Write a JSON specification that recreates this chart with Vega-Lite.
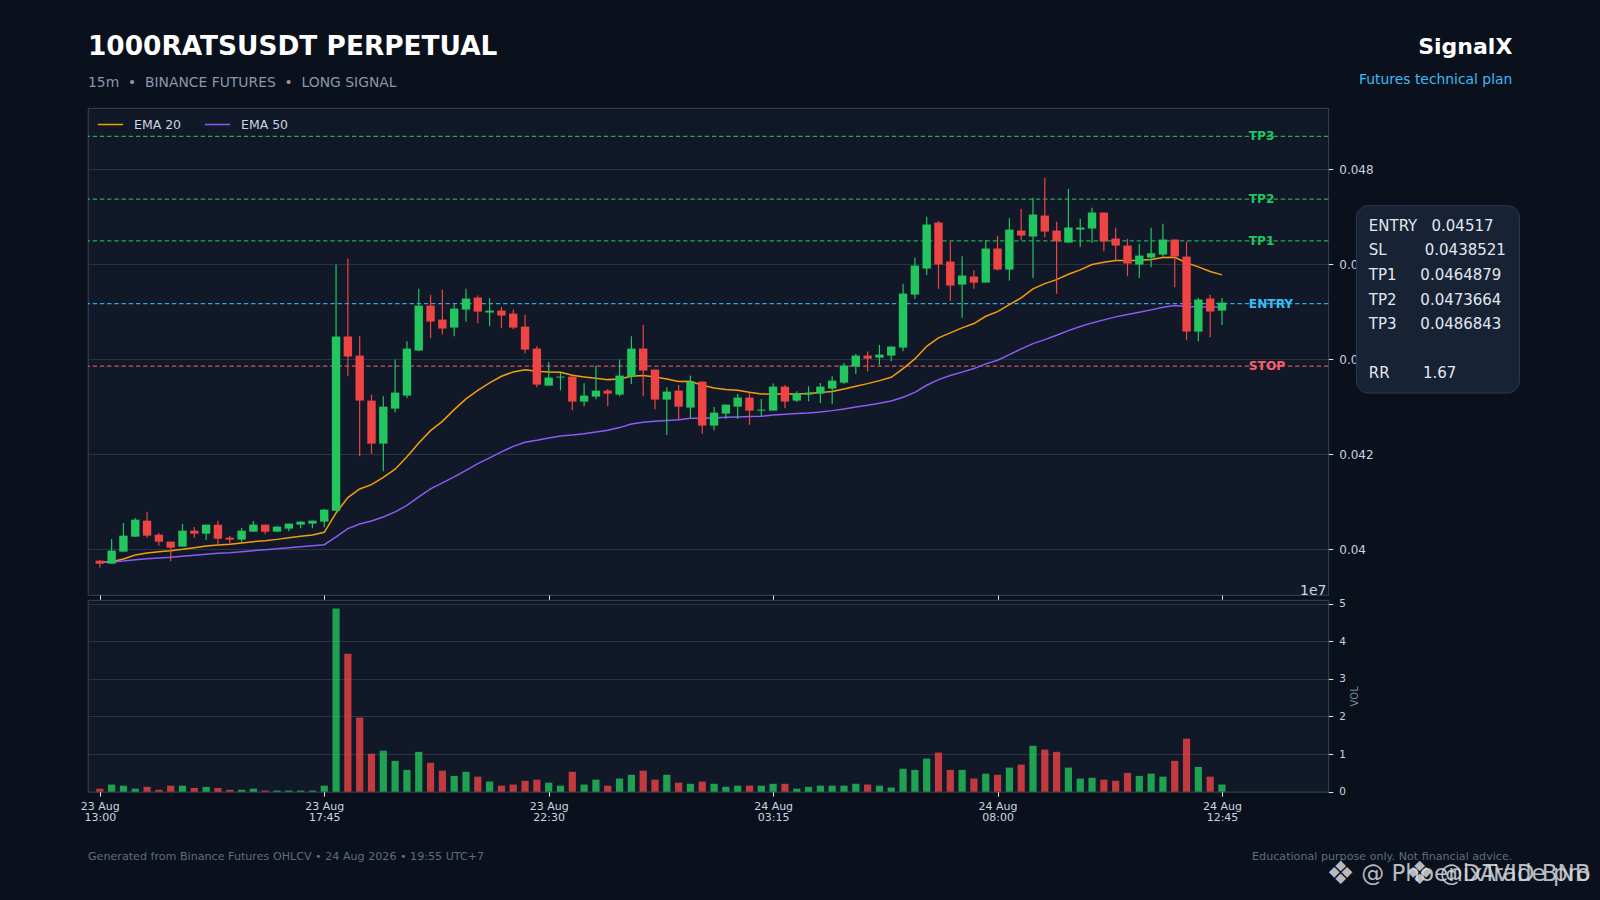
{
  "$schema": "https://vega.github.io/schema/vega-lite/v6.json",
  "description": "1000RATSUSDT 15m candlesticks with EMA lines, trade levels and volume.",
  "background": "#0a101c",
  "padding": {"left": 79, "top": 33, "right": 11, "bottom": 11},
  "config": {
    "font": "DejaVu Sans",
    "view": {"fill": "#111827", "stroke": "#2f3b4d", "strokeWidth": 1.2},
    "axis": {
      "domain": false,
      "gridColor": "#2a3442",
      "gridWidth": 1.1,
      "tickColor": "#e2e8f0",
      "tickSize": 4.5,
      "labelColor": "#cbd5e1"
    }
  },
  "datasets": {
    "candles": [
      {"i":0,"d":"down","o":0.039762,"h":0.039783,"l":0.039621,"c":0.039699,"EMA 20":0.039735,"EMA 50":0.039726,"v":0.08},
      {"i":1,"d":"up","o":0.039699,"h":0.040219,"l":0.039699,"c":0.039973,"EMA 20":0.039741,"EMA 50":0.039735,"v":0.19},
      {"i":2,"d":"up","o":0.039952,"h":0.040555,"l":0.039952,"c":0.040288,"EMA 20":0.039798,"EMA 50":0.039756,"v":0.16},
      {"i":3,"d":"up","o":0.040267,"h":0.040661,"l":0.040267,"c":0.040625,"EMA 20":0.039882,"EMA 50":0.039783,"v":0.08},
      {"i":4,"d":"down","o":0.040604,"h":0.040793,"l":0.040246,"c":0.040288,"EMA 20":0.039924,"EMA 50":0.039804,"v":0.13},
      {"i":5,"d":"down","o":0.040309,"h":0.040345,"l":0.040078,"c":0.040162,"EMA 20":0.039952,"EMA 50":0.039819,"v":0.05},
      {"i":6,"d":"down","o":0.040162,"h":0.040162,"l":0.039748,"c":0.040036,"EMA 20":0.039973,"EMA 50":0.039832,"v":0.16},
      {"i":7,"d":"up","o":0.040057,"h":0.040534,"l":0.040057,"c":0.040393,"EMA 20":0.04,"EMA 50":0.039853,"v":0.16},
      {"i":8,"d":"down","o":0.040393,"h":0.040471,"l":0.040246,"c":0.04033,"EMA 20":0.040036,"EMA 50":0.039874,"v":0.1},
      {"i":9,"d":"up","o":0.04033,"h":0.04052,"l":0.040198,"c":0.04052,"EMA 20":0.040072,"EMA 50":0.039895,"v":0.13},
      {"i":10,"d":"down","o":0.04052,"h":0.040604,"l":0.040078,"c":0.040225,"EMA 20":0.040093,"EMA 50":0.039916,"v":0.1},
      {"i":11,"d":"down","o":0.040246,"h":0.040288,"l":0.04012,"c":0.040204,"EMA 20":0.040105,"EMA 50":0.039931,"v":0.05},
      {"i":12,"d":"up","o":0.040204,"h":0.04045,"l":0.040156,"c":0.040393,"EMA 20":0.040135,"EMA 50":0.039952,"v":0.05},
      {"i":13,"d":"up","o":0.040372,"h":0.040598,"l":0.040372,"c":0.04052,"EMA 20":0.040162,"EMA 50":0.039973,"v":0.08},
      {"i":14,"d":"down","o":0.04052,"h":0.04052,"l":0.040324,"c":0.040372,"EMA 20":0.040183,"EMA 50":0.039994,"v":0.03},
      {"i":15,"d":"up","o":0.040372,"h":0.040488,"l":0.040372,"c":0.040478,"EMA 20":0.04021,"EMA 50":0.040015,"v":0.03},
      {"i":16,"d":"up","o":0.040436,"h":0.040541,"l":0.040379,"c":0.040541,"EMA 20":0.040246,"EMA 50":0.040036,"v":0.03},
      {"i":17,"d":"up","o":0.04052,"h":0.040593,"l":0.040442,"c":0.040583,"EMA 20":0.040274,"EMA 50":0.040057,"v":0.03},
      {"i":18,"d":"up","o":0.040541,"h":0.040604,"l":0.040442,"c":0.040604,"EMA 20":0.040303,"EMA 50":0.040078,"v":0.03},
      {"i":19,"d":"up","o":0.040583,"h":0.040856,"l":0.040463,"c":0.040835,"EMA 20":0.040358,"EMA 50":0.040099,"v":0.16},
      {"i":20,"d":"up","o":0.040814,"h":0.04599,"l":0.040814,"c":0.044475,"EMA 20":0.040766,"EMA 50":0.040261,"v":4.87},
      {"i":21,"d":"down","o":0.044475,"h":0.04611,"l":0.04364,"c":0.044054,"EMA 20":0.041088,"EMA 50":0.040436,"v":3.67},
      {"i":22,"d":"down","o":0.044075,"h":0.044482,"l":0.041957,"c":0.043129,"EMA 20":0.041271,"EMA 50":0.040534,"v":1.97},
      {"i":23,"d":"down","o":0.043129,"h":0.043255,"l":0.042007,"c":0.042224,"EMA 20":0.041361,"EMA 50":0.040598,"v":1.01},
      {"i":24,"d":"up","o":0.042224,"h":0.043219,"l":0.041641,"c":0.043002,"EMA 20":0.041515,"EMA 50":0.040682,"v":1.09},
      {"i":25,"d":"up","o":0.04296,"h":0.043991,"l":0.042882,"c":0.043297,"EMA 20":0.041687,"EMA 50":0.040787,"v":0.82},
      {"i":26,"d":"up","o":0.043234,"h":0.044376,"l":0.043185,"c":0.044223,"EMA 20":0.04195,"EMA 50":0.040926,"v":0.58},
      {"i":27,"d":"up","o":0.044181,"h":0.045479,"l":0.044166,"c":0.045127,"EMA 20":0.042239,"EMA 50":0.041102,"v":1.06},
      {"i":28,"d":"down","o":0.045127,"h":0.045353,"l":0.044439,"c":0.044791,"EMA 20":0.042497,"EMA 50":0.041271,"v":0.77},
      {"i":29,"d":"down","o":0.044833,"h":0.045458,"l":0.044517,"c":0.044644,"EMA 20":0.042693,"EMA 50":0.041397,"v":0.56},
      {"i":30,"d":"up","o":0.044665,"h":0.045163,"l":0.044482,"c":0.045064,"EMA 20":0.042939,"EMA 50":0.041523,"v":0.42},
      {"i":31,"d":"up","o":0.045043,"h":0.045479,"l":0.044785,"c":0.045275,"EMA 20":0.043164,"EMA 50":0.041662,"v":0.53},
      {"i":32,"d":"down","o":0.045296,"h":0.045338,"l":0.044755,"c":0.045001,"EMA 20":0.043345,"EMA 50":0.041803,"v":0.4},
      {"i":33,"d":"up","o":0.04498,"h":0.045281,"l":0.0447,"c":0.045022,"EMA 20":0.043501,"EMA 50":0.041923,"v":0.27},
      {"i":34,"d":"down","o":0.045022,"h":0.0451,"l":0.04465,"c":0.044917,"EMA 20":0.04364,"EMA 50":0.042049,"v":0.16},
      {"i":35,"d":"down","o":0.044959,"h":0.045043,"l":0.044629,"c":0.044665,"EMA 20":0.043732,"EMA 50":0.042167,"v":0.19},
      {"i":36,"d":"down","o":0.044686,"h":0.044932,"l":0.044124,"c":0.044202,"EMA 20":0.043775,"EMA 50":0.042251,"v":0.29},
      {"i":37,"d":"down","o":0.044223,"h":0.044271,"l":0.043408,"c":0.043465,"EMA 20":0.043745,"EMA 50":0.042293,"v":0.32},
      {"i":38,"d":"up","o":0.043444,"h":0.043934,"l":0.043444,"c":0.043613,"EMA 20":0.043732,"EMA 50":0.042344,"v":0.24},
      {"i":39,"d":"up","o":0.043613,"h":0.043711,"l":0.043345,"c":0.043634,"EMA 20":0.043724,"EMA 50":0.042386,"v":0.16},
      {"i":40,"d":"down","o":0.043634,"h":0.043634,"l":0.042925,"c":0.043108,"EMA 20":0.043661,"EMA 50":0.042407,"v":0.53},
      {"i":41,"d":"up","o":0.043108,"h":0.043493,"l":0.043009,"c":0.043234,"EMA 20":0.043627,"EMA 50":0.042434,"v":0.19},
      {"i":42,"d":"up","o":0.043213,"h":0.043865,"l":0.043156,"c":0.043339,"EMA 20":0.043598,"EMA 50":0.04247,"v":0.32},
      {"i":43,"d":"down","o":0.043339,"h":0.043375,"l":0.043009,"c":0.043276,"EMA 20":0.04357,"EMA 50":0.042504,"v":0.16},
      {"i":44,"d":"up","o":0.043255,"h":0.043991,"l":0.043219,"c":0.043655,"EMA 20":0.043585,"EMA 50":0.042561,"v":0.35},
      {"i":45,"d":"up","o":0.043634,"h":0.044482,"l":0.04348,"c":0.044223,"EMA 20":0.04364,"EMA 50":0.042638,"v":0.45},
      {"i":46,"d":"down","o":0.044223,"h":0.044721,"l":0.043219,"c":0.04376,"EMA 20":0.043655,"EMA 50":0.042672,"v":0.56},
      {"i":47,"d":"down","o":0.043781,"h":0.043781,"l":0.042946,"c":0.04315,"EMA 20":0.043627,"EMA 50":0.042693,"v":0.32},
      {"i":48,"d":"up","o":0.04315,"h":0.043408,"l":0.042407,"c":0.043318,"EMA 20":0.043585,"EMA 50":0.042708,"v":0.45},
      {"i":49,"d":"down","o":0.043339,"h":0.043459,"l":0.042729,"c":0.043002,"EMA 20":0.043533,"EMA 50":0.042725,"v":0.24},
      {"i":50,"d":"up","o":0.042981,"h":0.043655,"l":0.04275,"c":0.043528,"EMA 20":0.043535,"EMA 50":0.042756,"v":0.21},
      {"i":51,"d":"down","o":0.043528,"h":0.043528,"l":0.042434,"c":0.042603,"EMA 20":0.043451,"EMA 50":0.042756,"v":0.27},
      {"i":52,"d":"up","o":0.042603,"h":0.042996,"l":0.042504,"c":0.042876,"EMA 20":0.043396,"EMA 50":0.042765,"v":0.21},
      {"i":53,"d":"up","o":0.042855,"h":0.043044,"l":0.042744,"c":0.043044,"EMA 20":0.04336,"EMA 50":0.042777,"v":0.13},
      {"i":54,"d":"up","o":0.043002,"h":0.04327,"l":0.042744,"c":0.043192,"EMA 20":0.043345,"EMA 50":0.042786,"v":0.16},
      {"i":55,"d":"down","o":0.043192,"h":0.043291,"l":0.042617,"c":0.042918,"EMA 20":0.043303,"EMA 50":0.042792,"v":0.16},
      {"i":56,"d":"up","o":0.042918,"h":0.043164,"l":0.042798,"c":0.042939,"EMA 20":0.04327,"EMA 50":0.042798,"v":0.16},
      {"i":57,"d":"up","o":0.042918,"h":0.043486,"l":0.042918,"c":0.043423,"EMA 20":0.04327,"EMA 50":0.042828,"v":0.21},
      {"i":58,"d":"down","o":0.043423,"h":0.043459,"l":0.042967,"c":0.043108,"EMA 20":0.04327,"EMA 50":0.04284,"v":0.21},
      {"i":59,"d":"up","o":0.043129,"h":0.043324,"l":0.043101,"c":0.043276,"EMA 20":0.04327,"EMA 50":0.042855,"v":0.08},
      {"i":60,"d":"up","o":0.043255,"h":0.04343,"l":0.043114,"c":0.043297,"EMA 20":0.043276,"EMA 50":0.04287,"v":0.13},
      {"i":61,"d":"up","o":0.043276,"h":0.043501,"l":0.04308,"c":0.043423,"EMA 20":0.043297,"EMA 50":0.042891,"v":0.16},
      {"i":62,"d":"up","o":0.043381,"h":0.04364,"l":0.043059,"c":0.043549,"EMA 20":0.043318,"EMA 50":0.042918,"v":0.16},
      {"i":63,"d":"up","o":0.043507,"h":0.043922,"l":0.04348,"c":0.043865,"EMA 20":0.043375,"EMA 50":0.042954,"v":0.16},
      {"i":64,"d":"up","o":0.043844,"h":0.044111,"l":0.04369,"c":0.044075,"EMA 20":0.04343,"EMA 50":0.042996,"v":0.21},
      {"i":65,"d":"down","o":0.044075,"h":0.04416,"l":0.043745,"c":0.044012,"EMA 20":0.043486,"EMA 50":0.04303,"v":0.19},
      {"i":66,"d":"up","o":0.044033,"h":0.044301,"l":0.04388,"c":0.044097,"EMA 20":0.043549,"EMA 50":0.043072,"v":0.16},
      {"i":67,"d":"up","o":0.044075,"h":0.044265,"l":0.043956,"c":0.044265,"EMA 20":0.043619,"EMA 50":0.043122,"v":0.11},
      {"i":68,"d":"up","o":0.044244,"h":0.045584,"l":0.044166,"c":0.04538,"EMA 20":0.043802,"EMA 50":0.043198,"v":0.61},
      {"i":69,"d":"up","o":0.045359,"h":0.046131,"l":0.045268,"c":0.045969,"EMA 20":0.044006,"EMA 50":0.043303,"v":0.58},
      {"i":70,"d":"up","o":0.045906,"h":0.046994,"l":0.045773,"c":0.046832,"EMA 20":0.044271,"EMA 50":0.043451,"v":0.88},
      {"i":71,"d":"down","o":0.046874,"h":0.04691,"l":0.045479,"c":0.04599,"EMA 20":0.044448,"EMA 50":0.04357,"v":1.04},
      {"i":72,"d":"down","o":0.046053,"h":0.04648,"l":0.045226,"c":0.045548,"EMA 20":0.044553,"EMA 50":0.043655,"v":0.58},
      {"i":73,"d":"up","o":0.045569,"h":0.046165,"l":0.044869,"c":0.045759,"EMA 20":0.044658,"EMA 50":0.043728,"v":0.58},
      {"i":74,"d":"down","o":0.045738,"h":0.04587,"l":0.045479,"c":0.045611,"EMA 20":0.044749,"EMA 50":0.043802,"v":0.35},
      {"i":75,"d":"up","o":0.045611,"h":0.046501,"l":0.045611,"c":0.046327,"EMA 20":0.044902,"EMA 50":0.043901,"v":0.48},
      {"i":76,"d":"down","o":0.046327,"h":0.046594,"l":0.045864,"c":0.045885,"EMA 20":0.045001,"EMA 50":0.043977,"v":0.45},
      {"i":77,"d":"up","o":0.045885,"h":0.046964,"l":0.045653,"c":0.046726,"EMA 20":0.045148,"EMA 50":0.044096,"v":0.64},
      {"i":78,"d":"down","o":0.046705,"h":0.047162,"l":0.046501,"c":0.0466,"EMA 20":0.045289,"EMA 50":0.044216,"v":0.72},
      {"i":79,"d":"up","o":0.046579,"h":0.047393,"l":0.04571,"c":0.047042,"EMA 20":0.045479,"EMA 50":0.044328,"v":1.22},
      {"i":80,"d":"down","o":0.047021,"h":0.047814,"l":0.046564,"c":0.046684,"EMA 20":0.04559,"EMA 50":0.044412,"v":1.12},
      {"i":81,"d":"down","o":0.046705,"h":0.046888,"l":0.045374,"c":0.04648,"EMA 20":0.045674,"EMA 50":0.044503,"v":1.06},
      {"i":82,"d":"up","o":0.046453,"h":0.047583,"l":0.046453,"c":0.046769,"EMA 20":0.045786,"EMA 50":0.044601,"v":0.64},
      {"i":83,"d":"up","o":0.046726,"h":0.046952,"l":0.046362,"c":0.046769,"EMA 20":0.045878,"EMA 50":0.044686,"v":0.35},
      {"i":84,"d":"up","o":0.046748,"h":0.047183,"l":0.046447,"c":0.047084,"EMA 20":0.04599,"EMA 50":0.044763,"v":0.37},
      {"i":85,"d":"down","o":0.047084,"h":0.047084,"l":0.04627,"c":0.046474,"EMA 20":0.046038,"EMA 50":0.044827,"v":0.32},
      {"i":86,"d":"down","o":0.046537,"h":0.046762,"l":0.046081,"c":0.04639,"EMA 20":0.046074,"EMA 50":0.04489,"v":0.29},
      {"i":87,"d":"down","o":0.04639,"h":0.046531,"l":0.045744,"c":0.046011,"EMA 20":0.046074,"EMA 50":0.044938,"v":0.5},
      {"i":88,"d":"up","o":0.04599,"h":0.046426,"l":0.04571,"c":0.046179,"EMA 20":0.046081,"EMA 50":0.044986,"v":0.42},
      {"i":89,"d":"up","o":0.046137,"h":0.046762,"l":0.045933,"c":0.046228,"EMA 20":0.046095,"EMA 50":0.045037,"v":0.48},
      {"i":90,"d":"up","o":0.0462,"h":0.046846,"l":0.046152,"c":0.046516,"EMA 20":0.046137,"EMA 50":0.045092,"v":0.4},
      {"i":91,"d":"down","o":0.046516,"h":0.046516,"l":0.045512,"c":0.046158,"EMA 20":0.046144,"EMA 50":0.045127,"v":0.82},
      {"i":92,"d":"down","o":0.046158,"h":0.046474,"l":0.044397,"c":0.04458,"EMA 20":0.046026,"EMA 50":0.045106,"v":1.41},
      {"i":93,"d":"up","o":0.04458,"h":0.045289,"l":0.044376,"c":0.045254,"EMA 20":0.045942,"EMA 50":0.0451,"v":0.66},
      {"i":94,"d":"down","o":0.045275,"h":0.045353,"l":0.04446,"c":0.045001,"EMA 20":0.045843,"EMA 50":0.0451,"v":0.4},
      {"i":95,"d":"up","o":0.045022,"h":0.045289,"l":0.044721,"c":0.045191,"EMA 20":0.045773,"EMA 50":0.0451,"v":0.19}
    ],
    "levels": [
      {"name":"TP3","price":0.0486843},
      {"name":"TP2","price":0.0473664},
      {"name":"TP1","price":0.0464879},
      {"name":"ENTRY","price":0.04517},
      {"name":"STOP","price":0.0438521}
    ]
  },
  "spacing": 5,
  "bounds": "flush",
  "vconcat": [
    {
      "width": 1240.3,
      "height": 487,
      "layer": [
        {
          "data": {"name": "levels"},
          "mark": {"type": "text", "align": "left", "baseline": "middle", "fontWeight": "bold", "fontSize": 12.2},
          "encoding": {
            "x": {"datum": 97.27, "type": "quantitative"},
            "y": {"field": "price", "type": "quantitative"},
            "text": {"field": "name"},
            "color": {
              "field": "name",
              "legend": null,
              "scale": {
                "domain": ["TP3", "TP2", "TP1", "ENTRY", "STOP"],
                "range": ["#22c55e", "#22c55e", "#22c55e", "#38bdf8", "#f4606c"]
              }
            }
          }
        },
        {
          "data": {"name": "levels"},
          "mark": {"type": "rule", "strokeWidth": 1.2, "strokeDash": [4.4, 2.8], "opacity": 0.85},
          "encoding": {
            "y": {
              "field": "price",
              "type": "quantitative",
              "scale": {"domain": [0.03904, 0.049283], "nice": false, "zero": false},
              "axis": {
                "orient": "right",
                "title": null,
                "values": [0.04, 0.042, 0.044, 0.046, 0.048],
                "format": ".3~f",
                "labelFontSize": 12,
                "labelPadding": 6
              }
            },
            "color": {
              "field": "name",
              "legend": null,
              "scale": {
                "domain": ["TP3", "TP2", "TP1", "ENTRY", "STOP"],
                "range": ["#22c55e", "#22c55e", "#22c55e", "#38bdf8", "#f4606c"]
              }
            }
          }
        },
        {
          "data": {"name": "candles"},
          "transform": [{"fold": ["EMA 20", "EMA 50"]}],
          "mark": {"type": "line", "strokeWidth": 1.5},
          "encoding": {
            "x": {
              "field": "i",
              "type": "quantitative",
              "scale": {"domain": [-1, 104], "nice": false, "zero": false, "padding": 0},
              "axis": {
                "title": null,
                "values": [0, 19, 38, 57, 76, 95],
                "labels": false
              }
            },
            "y": {"field": "value", "type": "quantitative"},
            "stroke": {
              "field": "key",
              "scale": {"domain": ["EMA 20", "EMA 50"], "range": ["#f59e0b", "#8b5cf6"]},
              "legend": {
                "title": null,
                "orient": "none",
                "legendX": 9,
                "legendY": 3,
                "direction": "horizontal",
                "symbolType": "stroke",
                "symbolSize": 640,
                "symbolStrokeWidth": 1.5,
                "labelColor": "#cbd5e1",
                "labelFontSize": 12.5,
                "labelOffset": 10,
                "columnPadding": 19
              }
            }
          }
        },
        {
          "data": {"name": "candles"},
          "mark": {"type": "rule", "strokeWidth": 1.2},
          "encoding": {
            "x": {"field": "i", "type": "quantitative"},
            "y": {"field": "l", "type": "quantitative"},
            "y2": {"field": "h"},
            "color": {
              "field": "d",
              "legend": null,
              "scale": {"domain": ["up", "down"], "range": ["#22c55e", "#ef4444"]}
            }
          }
        },
        {
          "data": {"name": "candles"},
          "mark": {"type": "bar", "size": 8.4, "orient": "vertical"},
          "encoding": {
            "x": {"field": "i", "type": "quantitative"},
            "y": {"field": "o", "type": "quantitative"},
            "y2": {"field": "c"},
            "color": {
              "field": "d",
              "legend": null,
              "scale": {"domain": ["up", "down"], "range": ["#22c55e", "#ef4444"]}
            }
          }
        },
        {
          "data": {"values": [{}]},
          "mark": {"type": "text", "text": "1e7", "align": "right", "baseline": "middle", "fontSize": 14, "color": "#cbd5e1"},
          "encoding": {
            "x": {"datum": 103.85, "type": "quantitative"},
            "y": {"datum": 0.03913, "type": "quantitative"}
          }
        },
        {
          "data": {"values": [{}]},
          "mark": {"type": "text", "text": "1000RATSUSDT PERPETUAL", "align": "left", "baseline": "middle", "fontSize": 26.4, "fontWeight": "bold", "color": "#ffffff"},
          "encoding": {
            "x": {"datum": -1, "type": "quantitative"},
            "y": {"datum": 0.05056, "type": "quantitative"}
          }
        },
        {
          "data": {"values": [{}]},
          "mark": {"type": "text", "text": "15m\u00a0\u00a0\u2022\u00a0\u00a0BINANCE FUTURES\u00a0\u00a0\u2022\u00a0\u00a0LONG SIGNAL", "align": "left", "baseline": "middle", "fontSize": 13.9, "color": "#8b97a8"},
          "encoding": {
            "x": {"datum": -1, "type": "quantitative"},
            "y": {"datum": 0.04981, "type": "quantitative"}
          }
        },
        {
          "data": {"values": [{}]},
          "mark": {"type": "text", "text": "SignalX", "align": "right", "baseline": "middle", "fontSize": 22, "fontWeight": "bold", "color": "#ffffff"},
          "encoding": {
            "x": {"datum": 119.58, "type": "quantitative"},
            "y": {"datum": 0.05056, "type": "quantitative"}
          }
        },
        {
          "data": {"values": [{}]},
          "mark": {"type": "text", "text": "Futures technical plan", "align": "right", "baseline": "middle", "fontSize": 13.9, "color": "#38bdf8"},
          "encoding": {
            "x": {"datum": 119.58, "type": "quantitative"},
            "y": {"datum": 0.04987, "type": "quantitative"}
          }
        },
        {
          "data": {"values": [{}]},
          "mark": {"type": "rect", "cornerRadius": 12, "fill": "#172234", "stroke": "#2c3a4e", "strokeWidth": 1},
          "encoding": {
            "x": {"datum": 106.38, "type": "quantitative"},
            "x2": {"datum": 120.18},
            "y": {"datum": 0.047228, "type": "quantitative"},
            "y2": {"datum": 0.043287}
          }
        },
        {
          "data": {"values": [{}]},
          "mark": {
            "type": "text",
            "text": [
              "ENTRY\u00a0\u00a0\u00a00.04517",
              "SL\u00a0\u00a0\u00a0\u00a0\u00a0\u00a0\u00a0\u00a00.0438521",
              "TP1\u00a0\u00a0\u00a0\u00a0\u00a00.0464879",
              "TP2\u00a0\u00a0\u00a0\u00a0\u00a00.0473664",
              "TP3\u00a0\u00a0\u00a0\u00a0\u00a00.0486843"
            ],
            "align": "left",
            "baseline": "top",
            "fontSize": 15,
            "lineHeight": 24.67,
            "color": "#e2e8f0"
          },
          "encoding": {
            "x": {"datum": 107.43, "type": "quantitative"},
            "y": {"datum": 0.046957, "type": "quantitative"}
          }
        },
        {
          "data": {"values": [{}]},
          "mark": {"type": "text", "text": "RR\u00a0\u00a0\u00a0\u00a0\u00a0\u00a0\u00a01.67", "align": "left", "baseline": "middle", "fontSize": 15, "color": "#e2e8f0"},
          "encoding": {
            "x": {"datum": 107.43, "type": "quantitative"},
            "y": {"datum": 0.043712, "type": "quantitative"}
          }
        },
        {
          "data": {"values": [{}]},
          "mark": {"type": "text", "text": "Generated from Binance Futures OHLCV \u2022 24 Aug 2026 \u2022 19:55 UTC+7", "align": "left", "baseline": "middle", "fontSize": 11.15, "color": "#5f6d80"},
          "encoding": {
            "x": {"datum": -1, "type": "quantitative"},
            "y": {"datum": 0.033526, "type": "quantitative"}
          }
        },
        {
          "data": {"values": [{}]},
          "mark": {"type": "text", "text": "Educational purpose only. Not financial advice.", "align": "right", "baseline": "middle", "fontSize": 11.15, "color": "#5f6d80"},
          "encoding": {
            "x": {"datum": 119.58, "type": "quantitative"},
            "y": {"datum": 0.033526, "type": "quantitative"}
          }
        },
        {
          "data": {"values": [{}]},
          "mark": {"type": "text", "text": "\u2756", "align": "center", "baseline": "middle", "fontSize": 32, "color": "#d4d7dc", "opacity": 0.85},
          "encoding": {
            "x": {"datum": 105.04, "type": "quantitative"},
            "y": {"datum": 0.033162, "type": "quantitative"}
          }
        },
        {
          "data": {"values": [{}]},
          "mark": {"type": "text", "text": "@ PhoenixTrade pro", "align": "right", "baseline": "middle", "fontSize": 23, "color": "#d4d7dc", "opacity": 0.85},
          "encoding": {
            "x": {"datum": 126.2, "type": "quantitative"},
            "y": {"datum": 0.033162, "type": "quantitative"}
          }
        },
        {
          "data": {"values": [{}]},
          "mark": {"type": "text", "text": "\u2756", "align": "center", "baseline": "middle", "fontSize": 32, "color": "#d4d7dc", "opacity": 0.85},
          "encoding": {
            "x": {"datum": 111.73, "type": "quantitative"},
            "y": {"datum": 0.033162, "type": "quantitative"}
          }
        },
        {
          "data": {"values": [{}]},
          "mark": {"type": "text", "text": "@DAVID BNB", "align": "right", "baseline": "middle", "fontSize": 23, "color": "#d4d7dc", "opacity": 0.85},
          "encoding": {
            "x": {"datum": 126.2, "type": "quantitative"},
            "y": {"datum": 0.033162, "type": "quantitative"}
          }
        }
      ],
      "resolve": {"scale": {"color": "independent"}}
    },
    {
      "width": 1240.3,
      "height": 191.7,
      "data": {"name": "candles"},
      "mark": {"type": "bar", "size": 7.2, "orient": "vertical", "opacity": 0.8},
      "encoding": {
        "x": {
          "field": "i",
          "type": "quantitative",
          "scale": {"domain": [-1, 104], "nice": false, "zero": false, "padding": 0},
          "axis": {
            "title": null,
            "grid": false,
            "values": [0, 19, 38, 57, 76, 95],
            "labelExpr": "datum.value==0?['23 Aug','13:00']:datum.value==19?['23 Aug','17:45']:datum.value==38?['23 Aug','22:30']:datum.value==57?['24 Aug','03:15']:datum.value==76?['24 Aug','08:00']:['24 Aug','12:45']",
            "labelFontSize": 11,
            "labelLineHeight": 11.5,
            "labelPadding": 4,
            "labelOverlap": false,
            "labelFlush": false,
            "labelBound": false
          }
        },
        "y": {
          "field": "v",
          "type": "quantitative",
          "scale": {"domain": [0, 5.098], "nice": false},
          "axis": {
            "orient": "right",
            "title": "VOL",
            "titleColor": "#7a8798",
            "titleFontSize": 10,
            "titleFontWeight": "normal",
            "titleAngle": 270,
            "titlePadding": 14,
            "values": [0, 1, 2, 3, 4, 5],
            "labelFontSize": 10.5,
            "labelPadding": 6,
            "labelOverlap": false,
            "labelBound": false
          }
        },
        "color": {
          "field": "d",
          "legend": null,
          "scale": {"domain": ["up", "down"], "range": ["#22c55e", "#ef4444"]}
        }
      }
    }
  ]
}
